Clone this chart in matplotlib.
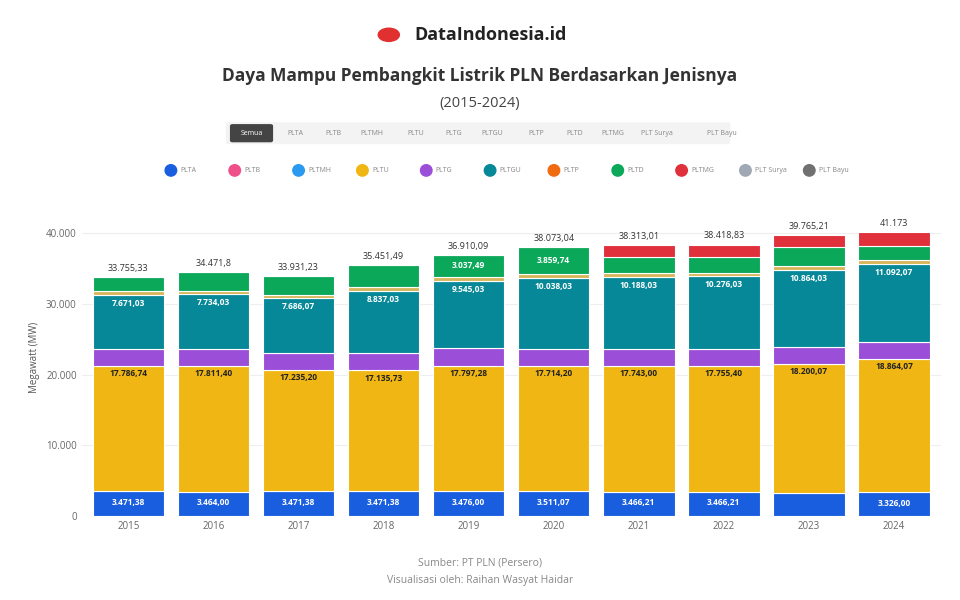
import matplotlib.pyplot as plt
import matplotlib.patches as mpatches
import numpy as np

plt.rcParams['font.family'] = ['Open Sans', 'DejaVu Sans']

years = ['2015', '2016', '2017', '2018', '2019', '2020', '2021', '2022', '2023', '2024']
plta = [3471.38, 3464.0, 3471.38, 3471.38, 3476.0, 3511.07, 3466.21, 3466.21, 3300.0, 3326.0]
pltu = [17786.74, 17811.4, 17235.2, 17135.73, 17797.28, 17714.2, 17743.0, 17755.4, 18200.07, 18864.07]
pltg = [2400, 2400, 2400, 2400, 2500, 2400, 2400, 2400, 2400, 2400]
pltgu = [7671.03, 7734.03, 7686.07, 8837.03, 9545.03, 10038.03, 10188.03, 10276.03, 10864.03, 11092.07]
pltp = [500, 500, 500, 500, 550, 550, 550, 550, 550, 550]
pltd = [1927, 2562, 2639, 3108, 3037.49, 3859.74, 2266, 2271, 2751, 1967]
pltmg = [0, 0, 0, 0, 0, 0, 1700, 1700, 1700, 1974]
totals = ['33.755,33', '34.471,8', '33.931,23', '35.451,49', '36.910,09', '38.073,04',
          '38.313,01', '38.418,83', '39.765,21', '41.173']

series = [('PLTA', plta, '#1a5ee0'), ('PLTU', pltu, '#f0b613'), ('PLTG', pltg, '#9b4fd8'),
          ('PLTGU', pltgu, '#078898'), ('PLTP', pltp, '#d6b65a'), ('PLTD', pltd, '#0ba85a'),
          ('PLTMG', pltmg, '#e0303c')]

def fmt(v):
    s = f'{v:,.2f}'
    return s.replace(',', 'X').replace('.', ',').replace('X', '.')

fig = plt.figure(figsize=(9.6, 6.0), dpi=100)
ax = fig.add_axes([0.085, 0.14, 0.895, 0.53])
x = np.arange(len(years))
bottom = np.zeros(len(years))
for name, vals, col in series:
    vals = np.array(vals, dtype=float)
    ax.bar(x, vals, 0.84, bottom=bottom, color=col, edgecolor='white', linewidth=0.8)
    for i, v in enumerate(vals):
        if name == 'PLTA' and i != 8:
            ax.text(x[i], bottom[i] + v * 0.55, fmt(v), ha='center', va='center', color='white', fontsize=6, fontweight='bold')
        if name == 'PLTU':
            ax.text(x[i], bottom[i] + v - 1100, fmt(v), ha='center', va='center', color='#222', fontsize=6, fontweight='bold')
        if name == 'PLTGU':
            ax.text(x[i], bottom[i] + v - 1200, fmt(v), ha='center', va='center', color='white', fontsize=6, fontweight='bold')
        if name == 'PLTD' and i in (4, 5):
            ax.text(x[i], bottom[i] + v / 2, fmt(v), ha='center', va='center', color='white', fontsize=6, fontweight='bold')
    bottom += vals
for i, t in enumerate(totals):
    ax.text(x[i], bottom[i] + 600, t, ha='center', va='bottom', fontsize=6.5, color='#333')

ax.set_ylim(0, 45000)
ax.set_xlim(-0.55, 9.55)
ax.set_yticks([0, 10000, 20000, 30000, 40000])
ax.set_yticklabels(['0', '10.000', '20.000', '30.000', '40.000'])
ax.set_xticks(x)
ax.set_xticklabels(years)
ax.tick_params(length=0, labelsize=7, colors='#666')
ax.set_ylabel('Megawatt (MW)', fontsize=7, color='#555')
ax.grid(axis='y', color='#eeeeee', linewidth=0.8)
ax.set_axisbelow(True)
for s in ax.spines.values():
    s.set_visible(False)

# header
fig.patches.append(mpatches.Circle((0.405, 0.942), 0.011, transform=fig.transFigure, color='#e03030', figure=fig))
fig.text(0.432, 0.942, 'DataIndonesia.id', fontsize=13, fontweight='bold', va='center', color='#222')
fig.text(0.5, 0.865, 'Daya Mampu Pembangkit Listrik PLN Berdasarkan Jenisnya', ha='center', fontsize=12.5, fontweight='bold', color='#333')
fig.text(0.5, 0.822, '(2015-2024)', ha='center', fontsize=10.5, color='#444')

# tabs
tabs = ['Semua', 'PLTA', 'PLTB', 'PLTMH', 'PLTU', 'PLTG', 'PLTGU', 'PLTP', 'PLTD', 'PLTMG', 'PLT Surya', 'PLT Bayu']
fig.patches.append(mpatches.FancyBboxPatch((0.238, 0.763), 0.52, 0.03, boxstyle='round,pad=0.002',
                                           transform=fig.transFigure, color='#f3f3f3', figure=fig))
xs = 0.262
for j, t in enumerate(tabs):
    w = 0.012 + 0.0055 * len(t)
    if j == 0:
        fig.patches.append(mpatches.FancyBboxPatch((xs - w / 2, 0.766), w, 0.024, boxstyle='round,pad=0.002',
                                                   transform=fig.transFigure, color='#444', figure=fig))
    fig.text(xs, 0.778, t, ha='center', va='center', fontsize=5, color='white' if j == 0 else '#888')
    xs += w + 0.006

# legend
leg = [('PLTA', '#1a5ee0'), ('PLTB', '#f0508a'), ('PLTMH', '#2a9af0'), ('PLTU', '#f0b613'), ('PLTG', '#9b4fd8'),
       ('PLTGU', '#078898'), ('PLTP', '#f06a10'), ('PLTD', '#0ba85a'), ('PLTMG', '#e0303c'),
       ('PLT Surya', '#a0a8b4'), ('PLT Bayu', '#707070')]
lx = 0.178
for name, col in leg:
    fig.patches.append(mpatches.Ellipse((lx, 0.716), 0.012, 0.019, transform=fig.transFigure, color=col, figure=fig))
    fig.text(lx + 0.01, 0.716, name, va='center', fontsize=5, color='#888')
    lx += 0.0665

fig.text(0.5, 0.058, 'Sumber: PT PLN (Persero)', ha='center', fontsize=7.5, color='#888')
fig.text(0.5, 0.028, 'Visualisasi oleh: Raihan Wasyat Haidar', ha='center', fontsize=7.5, color='#888')

fig.savefig('out.png', dpi=100, facecolor='white')
